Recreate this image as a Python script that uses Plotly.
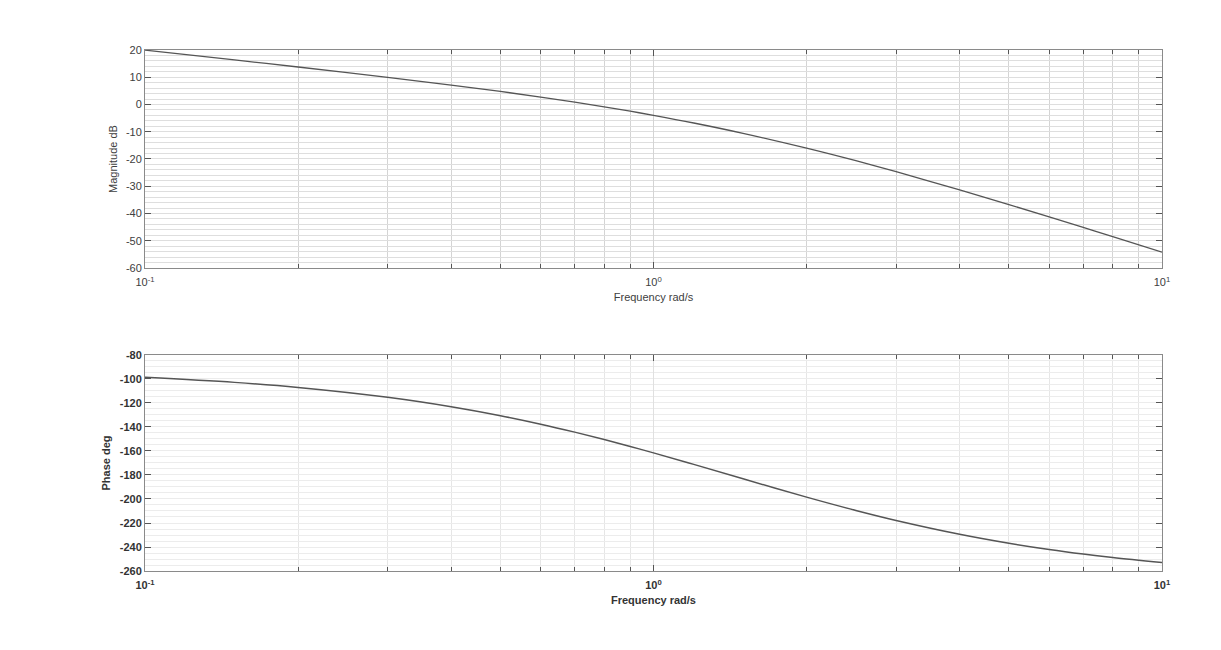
import plotly.graph_objects as go

# frequency points (rad/s)
freq = [0.1, 0.15, 0.2, 0.3, 0.4, 0.5, 0.6, 0.7, 0.8, 0.9, 1.0,
        1.2, 1.5, 2.0, 2.5, 3.0, 4.0, 5.0, 6.0, 7.0, 8.0, 10.0]
magnitude_db = [19.95, 16.36, 13.77, 9.99, 7.14, 4.79, 2.73, 0.86, -0.86, -2.46, -3.98,
                -6.79, -10.58, -16.02, -20.63, -24.66, -31.33, -36.73, -41.25, -45.12, -48.50, -54.19]
phase_deg = [-98.57, -102.82, -107.02, -115.23, -123.11, -130.60, -137.66, -144.28, -150.46, -156.22, -161.57,
             -171.15, -183.18, -198.43, -209.54, -217.88, -229.39, -236.89, -242.11, -245.92, -248.83, -252.98]

x_tickvals = [0.1, 1, 10]
x_ticktext = ["10<sup>-1</sup>", "10<sup>0</sup>", "10<sup>1</sup>"]
x_minor = [0.2, 0.3, 0.4, 0.5, 0.6, 0.7, 0.8, 0.9, 2, 3, 4, 5, 6, 7, 8, 9]

mag_ticks = [20, 10, 0, -10, -20, -30, -40, -50, -60]
phase_ticks = [-80, -100, -120, -140, -160, -180, -200, -220, -240, -260]

line_col = "#555555"
axis_col = "#8a8a8a"
text_col = "#404040"
font_fam = "Liberation Sans, Arial, sans-serif"

fig = go.Figure([
        go.Scatter(x=freq, y=magnitude_db, mode="lines", line_shape="spline",
                   line=dict(color=line_col, width=1.3), xaxis="x", yaxis="y", showlegend=False),
        go.Scatter(x=freq, y=phase_deg, mode="lines", line_shape="spline",
                   line=dict(color=line_col, width=1.5), xaxis="x2", yaxis="y2", showlegend=False),
    ])

common_x = dict(
    type="log", range=[-1, 1], tickvals=x_tickvals, ticktext=x_ticktext,
    showline=True, linecolor=axis_col, linewidth=1, mirror="ticks",
    ticks="inside", ticklen=6, tickcolor="#555555", ticklabelstandoff=4,
    showgrid=True, gridcolor="#d4d4d4", gridwidth=1, zeroline=False,
)

fig.update_layout(
    width=1221, height=650,
    paper_bgcolor="white", plot_bgcolor="white",
    margin=dict(l=137, r=67, t=42, b=87),
    font=dict(family=font_fam, size=11, color=text_col),
    xaxis=dict(common_x, domain=[0, 1], anchor="y",
               minor=dict(tickvals=x_minor, ticks="inside", ticklen=4, tickcolor="#555555",
                          showgrid=True, gridcolor="#d4d4d4"),
               title=dict(text="Frequency rad/s", standoff=6, font=dict(size=11, color=text_col)),
               tickfont=dict(size=11, color=text_col)),
    yaxis=dict(domain=[0.5816, 1], anchor="x", range=[-60, 20],
               tickvals=mag_ticks, ticktext=[str(v) for v in mag_ticks],
               showline=True, linecolor=axis_col, linewidth=1, mirror="ticks",
               ticks="inside", ticklen=6, tickcolor="#555555",
               showgrid=False, zeroline=False,
               minor=dict(dtick=2, showgrid=True, gridcolor="#dedede", ticks=""),
               title=dict(text="Magnitude dB", standoff=6, font=dict(size=11, color=text_col)),
               tickfont=dict(size=11, color=text_col)),
    xaxis2=dict(common_x, domain=[0, 1], anchor="y2",
                minor=dict(tickvals=x_minor, ticks="inside", ticklen=4, tickcolor="#555555",
                           showgrid=True, gridcolor="#e6e6e6"),
                gridcolor="#e0e0e0",
                title=dict(text="Frequency rad/s", standoff=6,
                           font=dict(size=11, color="#333333", weight="bold")),
                tickfont=dict(size=11, color="#333333", weight="bold")),
    yaxis2=dict(domain=[0, 0.4146], anchor="x2", range=[-260, -80],
                tickvals=phase_ticks, ticktext=[str(v) for v in phase_ticks],
                showline=True, linecolor=axis_col, linewidth=1, mirror="ticks",
                ticks="inside", ticklen=6, tickcolor="#555555",
                showgrid=False, zeroline=False,
                minor=dict(dtick=5, showgrid=True, gridcolor="#ececec", ticks=""),
                title=dict(text="Phase deg", standoff=6,
                           font=dict(size=11, color="#333333", weight="bold")),
                tickfont=dict(size=11, color="#333333", weight="bold")),
)

fig.write_html("out.html")
